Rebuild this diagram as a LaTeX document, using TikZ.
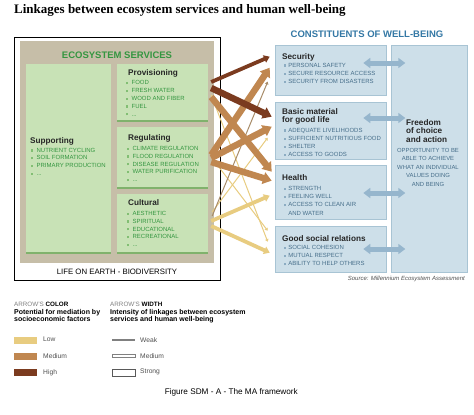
\documentclass[tikz,border=0pt]{standalone}
\usepackage{fontspec}
\setmainfont{Liberation Serif}
\setsansfont{Liberation Sans}
\usetikzlibrary{arrows.meta}

\definecolor{tanbg}{RGB}{198,190,168}
\definecolor{gfill}{RGB}{200,226,182}
\definecolor{gshade}{RGB}{128,178,108}
\definecolor{gtext}{RGB}{52,150,64}
\definecolor{gbul}{RGB}{130,190,115}
\definecolor{bfill}{RGB}{205,223,233}
\definecolor{bedge}{RGB}{168,196,212}
\definecolor{btext}{RGB}{70,110,138}
\definecolor{bbul}{RGB}{140,172,194}
\definecolor{bhead}{RGB}{52,120,165}
\definecolor{arrowblue}{RGB}{150,182,205}
\definecolor{lowcol}{RGB}{232,204,128}
\definecolor{medcol}{RGB}{192,135,80}
\definecolor{highcol}{RGB}{123,59,31}
\definecolor{thincol}{RGB}{168,140,105}
\definecolor{legtext}{RGB}{80,80,80}

\newcommand{\itemfont}{\sffamily\fontsize{6}{7.8}\selectfont}
\newcommand{\rightfont}{\sffamily\fontsize{6}{8.2}\selectfont}
\newcommand{\headfont}{\sffamily\bfseries\fontsize{8.2}{8.2}\selectfont}
\newcommand{\gb}{{\color{gbul}\rule[0.6pt]{2.2pt}{2.2pt}}\hspace{3.2pt}}
\newcommand{\bb}{{\color{bbul}\rule[0.6pt]{2.2pt}{2.2pt}}\hspace{2.4pt}}

\tikzset{
  gbox/.style={fill=gfill, inner sep=0pt,
    path picture={\fill[gshade] (path picture bounding box.south west)
      rectangle ([yshift=2pt]path picture bounding box.south east);}},
  bbox/.style={fill=bfill, draw=bedge, line width=0.6pt, inner sep=0pt},
  head/.style={anchor=north west, inner sep=0pt, font=\headfont, text=black!85, align=left},
  gitem/.style={anchor=north west, inner sep=0pt, font=\itemfont, text=gtext, align=left},
  bitem/.style={anchor=north west, inner sep=0pt, font=\rightfont, text=btext, align=left},
  legend/.style={anchor=west, inner sep=0pt, font=\sffamily\fontsize{6.7}{7}\selectfont, text=legtext},
  link/.style={-{Triangle[length=1.5pt 1.1, width=2pt 1.5]}},
  lkweak/.style={link, line width=1pt},
  lkmed/.style={link, line width=3.8pt},
  lkstrong/.style={link, line width=6.5pt},
  dbl/.style={{Triangle[length=1.5pt 1.1, width=2pt 1.6]}-{Triangle[length=1.5pt 1.1, width=2pt 1.6]},
    line width=5pt, draw=arrowblue}
}

\begin{document}
\begin{tikzpicture}[x=1pt, y=-1pt]
  \useasboundingbox (0,0) rectangle (474,415);
  \fill[white] (0,0) rectangle (474,415);

  \node[anchor=base west, inner sep=0pt, font=\bfseries\fontsize{13}{15}\selectfont] (title) at (14,13.5)
    {Linkages between ecosystem services and human well-being};

  % ecosystem services
  \node[draw, line width=0.8pt, minimum width=206pt, minimum height=243pt, inner sep=0pt] (earth) at (117,158.5) {};
  \node[fill=tanbg, minimum width=194pt, minimum height=222pt, inner sep=0pt] (es) at (117,152) {};
  \node[font=\sffamily\bfseries\fontsize{9.5}{10}\selectfont, text=gtext, inner sep=0pt] (esname) at (117,55) {ECOSYSTEM SERVICES};
  \node[font=\sffamily\fontsize{7.8}{8}\selectfont, inner sep=0pt] (life) at (117,272) {LIFE ON EARTH - BIODIVERSITY};

  \node[gbox, minimum width=85pt, minimum height=190pt] (supp) at (68.5,159) {};
  \node[gbox, minimum width=91pt, minimum height=58pt] (prov) at (162.5,93) {};
  \node[gbox, minimum width=91pt, minimum height=62pt] (reg) at (162.5,158) {};
  \node[gbox, minimum width=91pt, minimum height=60pt] (cult) at (162.5,224) {};

  \node[head] (provname) at (128,69.1) {Provisioning};
  \node[gitem] (provlist) at (126,80.5) {\gb FOOD\\ \gb FRESH WATER\\ \gb WOOD AND FIBER\\ \gb FUEL\\ \gb ...};
  \node[head] (regname) at (128,134.4) {Regulating};
  \node[gitem] (reglist) at (127,146.1) {\gb CLIMATE REGULATION\\ \gb FLOOD REGULATION\\ \gb DISEASE REGULATION\\ \gb WATER PURIFICATION\\ \gb ...};
  \node[head] (cultname) at (128,199.8) {Cultural};
  \node[gitem] (cultlist) at (127,211.1) {\gb AESTHETIC\\ \gb SPIRITUAL\\ \gb EDUCATIONAL\\ \gb RECREATIONAL\\ \gb ...};
  \node[head] (suppname) at (30,137.1) {Supporting};
  \node[gitem] (supplist) at (31,147.8) {\gb NUTRIENT CYCLING\\ \gb SOIL FORMATION\\ \gb PRIMARY PRODUCTION\\ \gb ...};

  % constituents of well-being
  \node[font=\sffamily\bfseries\fontsize{9.5}{10}\selectfont, text=bhead, inner sep=0pt] (cwb) at (367,34) {CONSTITUENTS OF WELL-BEING};
  \node[bbox, minimum width=111pt, minimum height=50pt] (sec) at (330.5,70) {};
  \node[bbox, minimum width=111pt, minimum height=57pt] (basic) at (330.5,130.5) {};
  \node[bbox, minimum width=111pt, minimum height=54pt] (health) at (330.5,192) {};
  \node[bbox, minimum width=111pt, minimum height=46pt] (social) at (330.5,249) {};
  \node[bbox, minimum width=76pt, minimum height=227pt] (free) at (429,158.5) {};

  \node[head] (secname) at (282,53.8) {Security};
  \node[bitem] (seclist) at (283.5,62.8) {\bb PERSONAL SAFETY\\ \bb SECURE RESOURCE ACCESS\\ \bb SECURITY FROM DISASTERS};
  \node[head] (basicname) at (282,108.1) {Basic material\\for good life};
  \node[bitem] (basiclist) at (283.5,127.8) {\bb ADEQUATE LIVELIHOODS\\ \bb SUFFICIENT NUTRITIOUS FOOD\\ \bb SHELTER\\ \bb ACCESS TO GOODS};
  \node[head] (healthname) at (282,174.4) {Health};
  \node[bitem] (healthlist) at (283.5,186.1) {\bb STRENGTH\\ \bb FEELING WELL\\ \bb ACCESS TO CLEAN AIR\\ \phantom{\bb}AND WATER};
  \node[head] (socialname) at (282,235.4) {Good social relations};
  \node[bitem] (sociallist) at (283.5,245.1) {\bb SOCIAL COHESION\\ \bb MUTUAL RESPECT\\ \bb ABILITY TO HELP OTHERS};
  \node[head, font=\sffamily\bfseries\fontsize{8.2}{8.5}\selectfont] (freename) at (406,119.1) {Freedom\\of choice\\and action};
  \node[anchor=north, inner sep=0pt, align=center, text=btext, font=\sffamily\fontsize{5.9}{8.5}\selectfont] (freelist) at (428,147.8)
    {OPPORTUNITY TO BE\\ABLE TO ACHIEVE\\WHAT AN INDIVIDUAL\\VALUES DOING\\AND BEING};

  \draw[dbl] ([xshift=-23pt,yshift=7pt]sec.east) -- ([xshift=19pt,yshift=7pt]sec.east);
  \draw[dbl] ([xshift=-23pt,yshift=12.5pt]basic.east) -- ([xshift=19pt,yshift=12.5pt]basic.east);
  \draw[dbl] ([xshift=-23pt,yshift=-1pt]health.east) -- ([xshift=19pt,yshift=-1pt]health.east);
  \draw[dbl] ([xshift=-23pt]social.east) -- ([xshift=19pt]social.east);

  \node[anchor=east, inner sep=0pt, text=legtext, font=\sffamily\itshape\fontsize{6}{7}\selectfont] (source) at (465,279)
    {Source: Millennium Ecosystem Assessment};

  % linkages, weak first
  \draw[lkweak, lowcol] ([xshift=3pt,yshift=-2pt]prov.east) -- ([xshift=-7pt,yshift=-16pt]social.north west);
  \draw[lkweak, lowcol] ([xshift=3pt,yshift=1pt]reg.east) -- ([xshift=-7pt,yshift=-5pt]social.north west);
  \draw[lkweak, lowcol] ([xshift=4pt,yshift=12pt]cult.east) -- ([xshift=-7pt,yshift=-36pt]basic.north west);
  \draw[lkweak, thincol] ([xshift=4pt,yshift=8pt]cult.east) -- ([xshift=-7pt,yshift=-37pt]sec.north west);
  \draw[lkmed, lowcol] ([xshift=3pt,yshift=3pt]cult.east) -- ([xshift=-5pt,yshift=-31pt]health.north west);
  \draw[lkmed, lowcol] ([xshift=3pt,yshift=-2pt]cult.east) -- ([xshift=-5pt,yshift=-27pt]social.north west);
  \draw[lkstrong, medcol] ([xshift=3pt,yshift=-4pt]reg.east) -- ([xshift=-3pt,yshift=-16pt]health.north west);
  \draw[lkstrong, medcol] ([xshift=3pt]reg.east) -- ([xshift=-3pt,yshift=-25pt]basic.north west);
  \draw[lkstrong, medcol] ([xshift=3pt,yshift=3pt]reg.east) -- ([xshift=-5pt,yshift=-23pt]sec.north west);
  \draw[lkstrong, medcol] ([xshift=3pt,yshift=-4pt]prov.east) -- ([xshift=-3pt,yshift=-7pt]health.north west);
  \draw[lkmed, highcol] ([xshift=3pt,yshift=11pt]prov.east) -- ([xshift=-5pt,yshift=-12pt]sec.north west);
  \draw[lkstrong, highcol] ([xshift=3pt,yshift=5pt]prov.east) -- ([xshift=-3pt,yshift=-15pt]basic.north west);

  % legend
  \node[anchor=north west, inner sep=0pt, font=\sffamily\fontsize{6.3}{7}\selectfont] (colhead) at (14,302.3)
    {\textcolor{gray}{ARROW'S }\textbf{COLOR}};
  \node[anchor=north west, inner sep=0pt, align=left, font=\sffamily\bfseries\fontsize{7}{6.8}\selectfont] (coltext) at (14,309.3)
    {Potential for mediation by\\socioeconomic factors};
  \node[anchor=north west, inner sep=0pt, font=\sffamily\fontsize{6.3}{7}\selectfont] (widhead) at (110,302.3)
    {\textcolor{gray}{ARROW'S }\textbf{WIDTH}};
  \node[anchor=north west, inner sep=0pt, align=left, font=\sffamily\bfseries\fontsize{7}{6.8}\selectfont] (widtext) at (110,309.3)
    {Intensity of linkages between ecosystem\\services and human well-being};

  \fill[lowcol] (14,336.5) rectangle (37,343.5);
  \fill[medcol] (14,352.5) rectangle (37,359.5);
  \fill[highcol] (14,368.5) rectangle (37,375.5);
  \node[legend] (low) at (43,339.7) {Low};
  \node[legend] (med) at (43,355.7) {Medium};
  \node[legend] (high) at (43,372.3) {High};

  \draw[gray, line width=1.2pt] (112,340) -- (135,340);
  \draw[gray, line width=0.5pt] (112,354.3) rectangle (135,357.3);
  \draw[gray!70!black, line width=0.6pt] (112,369.3) rectangle (135,376);
  \node[legend] (weak) at (140,339.7) {Weak};
  \node[legend] (medw) at (140,355.7) {Medium};
  \node[legend] (strong) at (140,372.3) {Strong};

  \node[font=\sffamily\fontsize{8.2}{9}\selectfont, inner sep=0pt] (caption) at (231.3,392) {Figure SDM - A - The MA framework};
\end{tikzpicture}
\end{document}
